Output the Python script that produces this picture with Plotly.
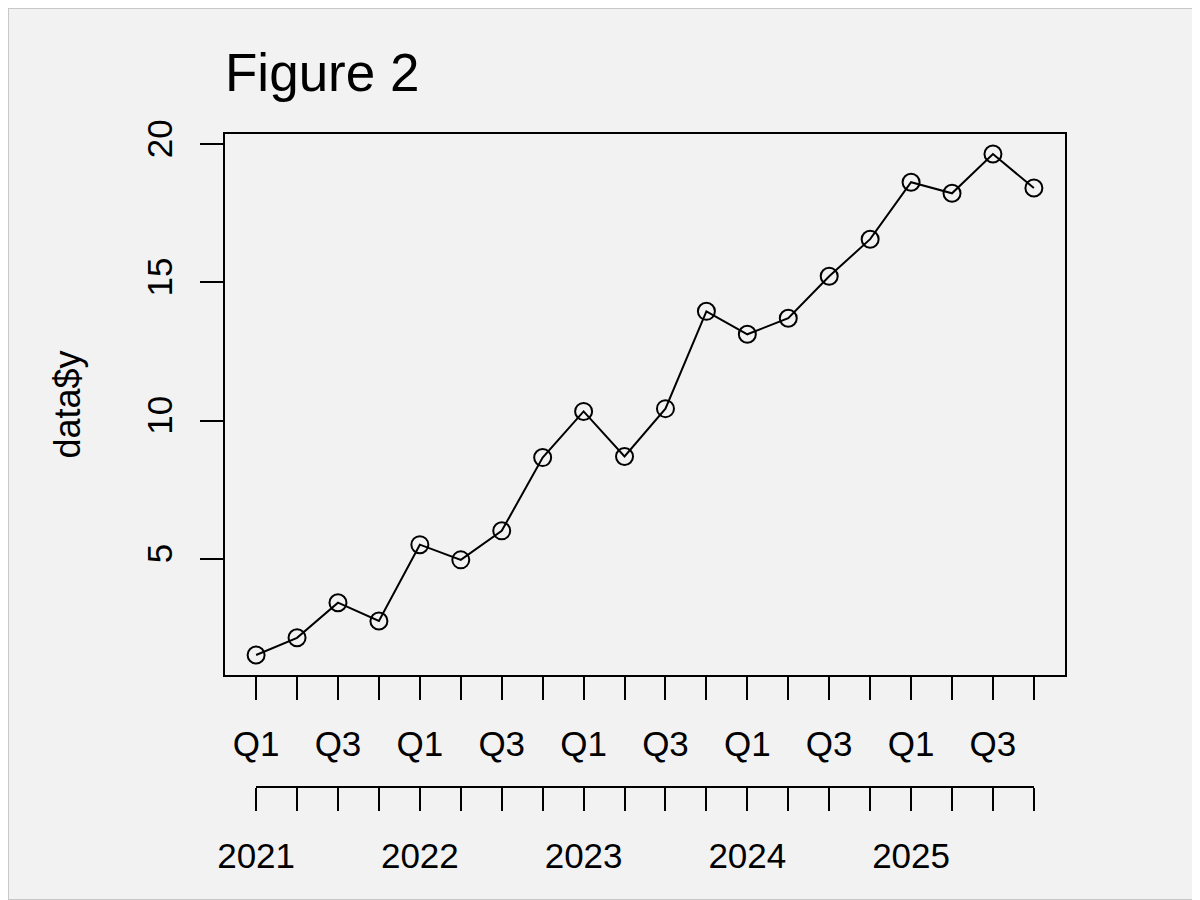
import plotly.graph_objects as go

# quarterly series, 2021 Q1 .. 2025 Q4
quarter_index = list(range(1, 21))
y_values = [1.52, 2.14, 3.41, 2.75, 5.51, 4.96, 6.01, 8.66, 10.33, 8.70,
            10.43, 13.95, 13.12, 13.70, 15.22, 16.56, 18.62, 18.22, 19.64, 18.41]

# labels as shown (R drops the ones that would overlap)
quarter_labels = ['Q1', '', 'Q3', '', 'Q1', '', 'Q3', '', 'Q1', '', 'Q3', '',
                  'Q1', '', 'Q3', '', 'Q1', '', 'Q3', '']
year_labels = ['2021', '', '', '', '2022', '', '', '', '2023', '', '', '',
               '2024', '', '', '', '2025', '', '', '']
y_ticks = [5, 10, 15, 20]

FONT = 'Liberation Sans, Arial, Helvetica, sans-serif'
BG = '#f2f2f2'

# the page body has an 8px margin, so work in page px minus that
OFF = 8
W, H = 1200 - OFF, 900 - OFF
L, R, T, B = 225 - OFF, 135, 134 - OFF, 85
plot_w = W - L - R
plot_h = H - T - B
box_bottom = 675 - OFF     # bottom of the plot box
year_line = 787 - OFF      # the year axis line

# R style padding of 4% on each side
x_pad = 0.04 * (max(quarter_index) - min(quarter_index))
y_pad = 0.04 * (max(y_values) - min(y_values))
x_range = [min(quarter_index) - x_pad, max(quarter_index) + x_pad]
y_range = [min(y_values) - y_pad, max(y_values) + y_pad]


def to_xfrac(v):
    return (v - x_range[0]) / (x_range[1] - x_range[0])


fig = go.Figure()

fig.add_trace(go.Scatter(
    x=quarter_index,
    y=y_values,
    mode='lines+markers',
    line=dict(color='black', width=2),
    marker=dict(symbol='circle-open', size=17, color='black', line=dict(width=2)),
    showlegend=False,
    hoverinfo='skip'
))

# invisible copy so the second (year) axis gets drawn
fig.add_trace(go.Scatter(
    x=quarter_index,
    y=y_values,
    xaxis='x2',
    mode='markers',
    marker=dict(opacity=0),
    showlegend=False,
    hoverinfo='skip'
))

tick_font = dict(family=FONT, size=35, color='black')

fig.update_layout(
    width=W,
    height=H,
    paper_bgcolor=BG,
    plot_bgcolor='rgba(0,0,0,0)',
    margin=dict(l=L, r=R, t=T, b=B),
    title=dict(
        text='Figure 2',
        font=dict(family=FONT, size=53, color='black'),
        x=0, xref='paper', xanchor='left',
        y=1 - (72 - OFF) / H, yref='container', yanchor='middle'
    ),
    xaxis=dict(
        range=x_range,
        tickvals=quarter_index,
        ticktext=quarter_labels,
        ticks='outside', ticklen=23, tickwidth=2, tickcolor='black',
        ticklabelstandoff=14,
        tickfont=tick_font,
        showline=True, linecolor='black', linewidth=2, mirror=True,
        showgrid=False, zeroline=False,
        anchor='y'
    ),
    xaxis2=dict(
        range=[min(quarter_index), max(quarter_index)],
        domain=[to_xfrac(min(quarter_index)), to_xfrac(max(quarter_index))],
        anchor='free',
        position=(H - B - year_line) / plot_h,
        side='bottom',
        tickvals=quarter_index,
        ticktext=year_labels,
        ticks='outside', ticklen=23, tickwidth=2, tickcolor='black',
        ticklabelstandoff=15,
        tickfont=tick_font,
        showline=True, linecolor='black', linewidth=2,
        showgrid=False, zeroline=False
    ),
    yaxis=dict(
        range=y_range,
        domain=[(H - B - box_bottom) / plot_h, 1],
        tickvals=y_ticks,
        ticks='outside', ticklen=23, tickwidth=2, tickcolor='black',
        tickangle=-90,
        ticklabelstandoff=14,
        tickfont=tick_font,
        showline=True, linecolor='black', linewidth=2, mirror=True,
        showgrid=False, zeroline=False,
        title=dict(text='data$y', font=dict(family=FONT, size=36, color='black'),
                   standoff=48)
    ),
    # thin grey frame round the whole picture
    shapes=[dict(
        type='rect', xref='paper', yref='paper',
        x0=-L / plot_w, x1=(W - L) / plot_w,
        y0=-B / plot_h, y1=(H - B) / plot_h,
        line=dict(color='#c8c8c8', width=2),
        fillcolor='rgba(0,0,0,0)', layer='below'
    )]
)

fig.write_html("out.html")
